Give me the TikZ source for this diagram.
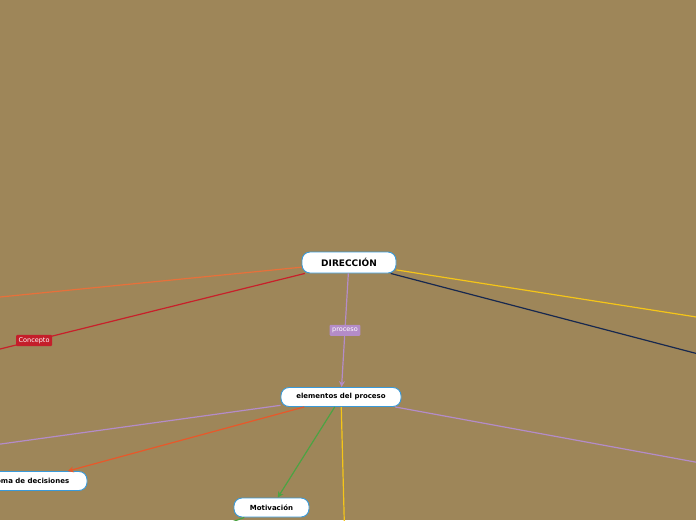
\documentclass[tikz,border=0pt]{standalone}
\usepackage{fontspec}
\setmainfont{DejaVu Sans}
\usepackage{xcolor}
\usetikzlibrary{arrows.meta,positioning}

\definecolor{bgbrown}{HTML}{9E8659}
\definecolor{edgeblue}{HTML}{3A9AD9}
\definecolor{lilac}{HTML}{B48CC8}
\definecolor{tagred}{HTML}{C41E2A}
\definecolor{linered}{HTML}{C8202A}
\definecolor{lineorange}{HTML}{E8703A}
\definecolor{arroworange}{HTML}{E8582A}
\definecolor{lineyellow}{HTML}{F5C518}
\definecolor{linenavy}{HTML}{17284F}
\definecolor{linegreen}{HTML}{4CA343}

\begin{document}
\begin{tikzpicture}[
  x=1pt, y=-1pt,
  topic/.style={draw=edgeblue, line width=0.9pt, fill=white, rounded corners=8pt, inner sep=0pt,
    minimum height=19pt, font=\bfseries\fontsize{7}{8}\selectfont},
  tag/.style={fill=#1, text=white, inner sep=2.5pt, minimum height=11pt, rounded corners=1pt, font=\fontsize{6.5}{7}\selectfont},
  link/.style={draw=#1, line width=1.2pt},
  >={Stealth[length=6pt, width=6pt]}
]
  \fill[bgbrown] (0,0) rectangle (696,520);
  \useasboundingbox (0,0) rectangle (696,520);
  \clip (0,0) rectangle (696,520);

  % main topic and its children
  \node[topic, minimum width=94pt, minimum height=21pt, font=\bfseries\fontsize{9}{10}\selectfont] (direccion) at (349,262.5) {DIRECCIÓN};
  \node[topic, minimum width=120pt] (elementos) at (341,397) {elementos del proceso};
  \node[topic, minimum width=112pt] (toma) at (31,481) {toma de decisiones};
  \node[topic, minimum width=75pt] (motivacion) at (271.5,507.5) {Motivación};

  % free ends outside the page
  \coordinate (dirW) at (-10,298);
  \coordinate (dirSW) at (-10,351.5);
  \coordinate (dirE) at (706,318.5);
  \coordinate (dirSE) at (706,356);
  \coordinate (elemW) at (-10,445.5);
  \coordinate (elemE) at (706,464);
  \coordinate (elemS) at (344.5,530);
  \coordinate (motivS) at (210,530);

  \draw[link=lineorange] (direccion) -- (dirW);
  \draw[link=linered] (direccion) -- node[tag=tagred, pos=0.86] {Concepto} (dirSW);
  \draw[link=lineyellow] (direccion) -- (dirE);
  \draw[link=linenavy] (direccion) -- (dirSE);
  \draw[link=lilac, ->] (direccion) -- node[tag=lilac] {proceso} (elementos);

  \draw[link=lilac] (elementos) -- (elemW);
  \draw[link=lilac] (elementos) -- (elemE);
  \draw[link=arroworange, ->] (elementos) -- (toma);
  \draw[link=linegreen, ->] (elementos) -- (motivacion);
  \draw[link=lineyellow] (elementos) -- (elemS);
  \draw[link=linegreen] (motivacion) -- (motivS);
\end{tikzpicture}
\end{document}
